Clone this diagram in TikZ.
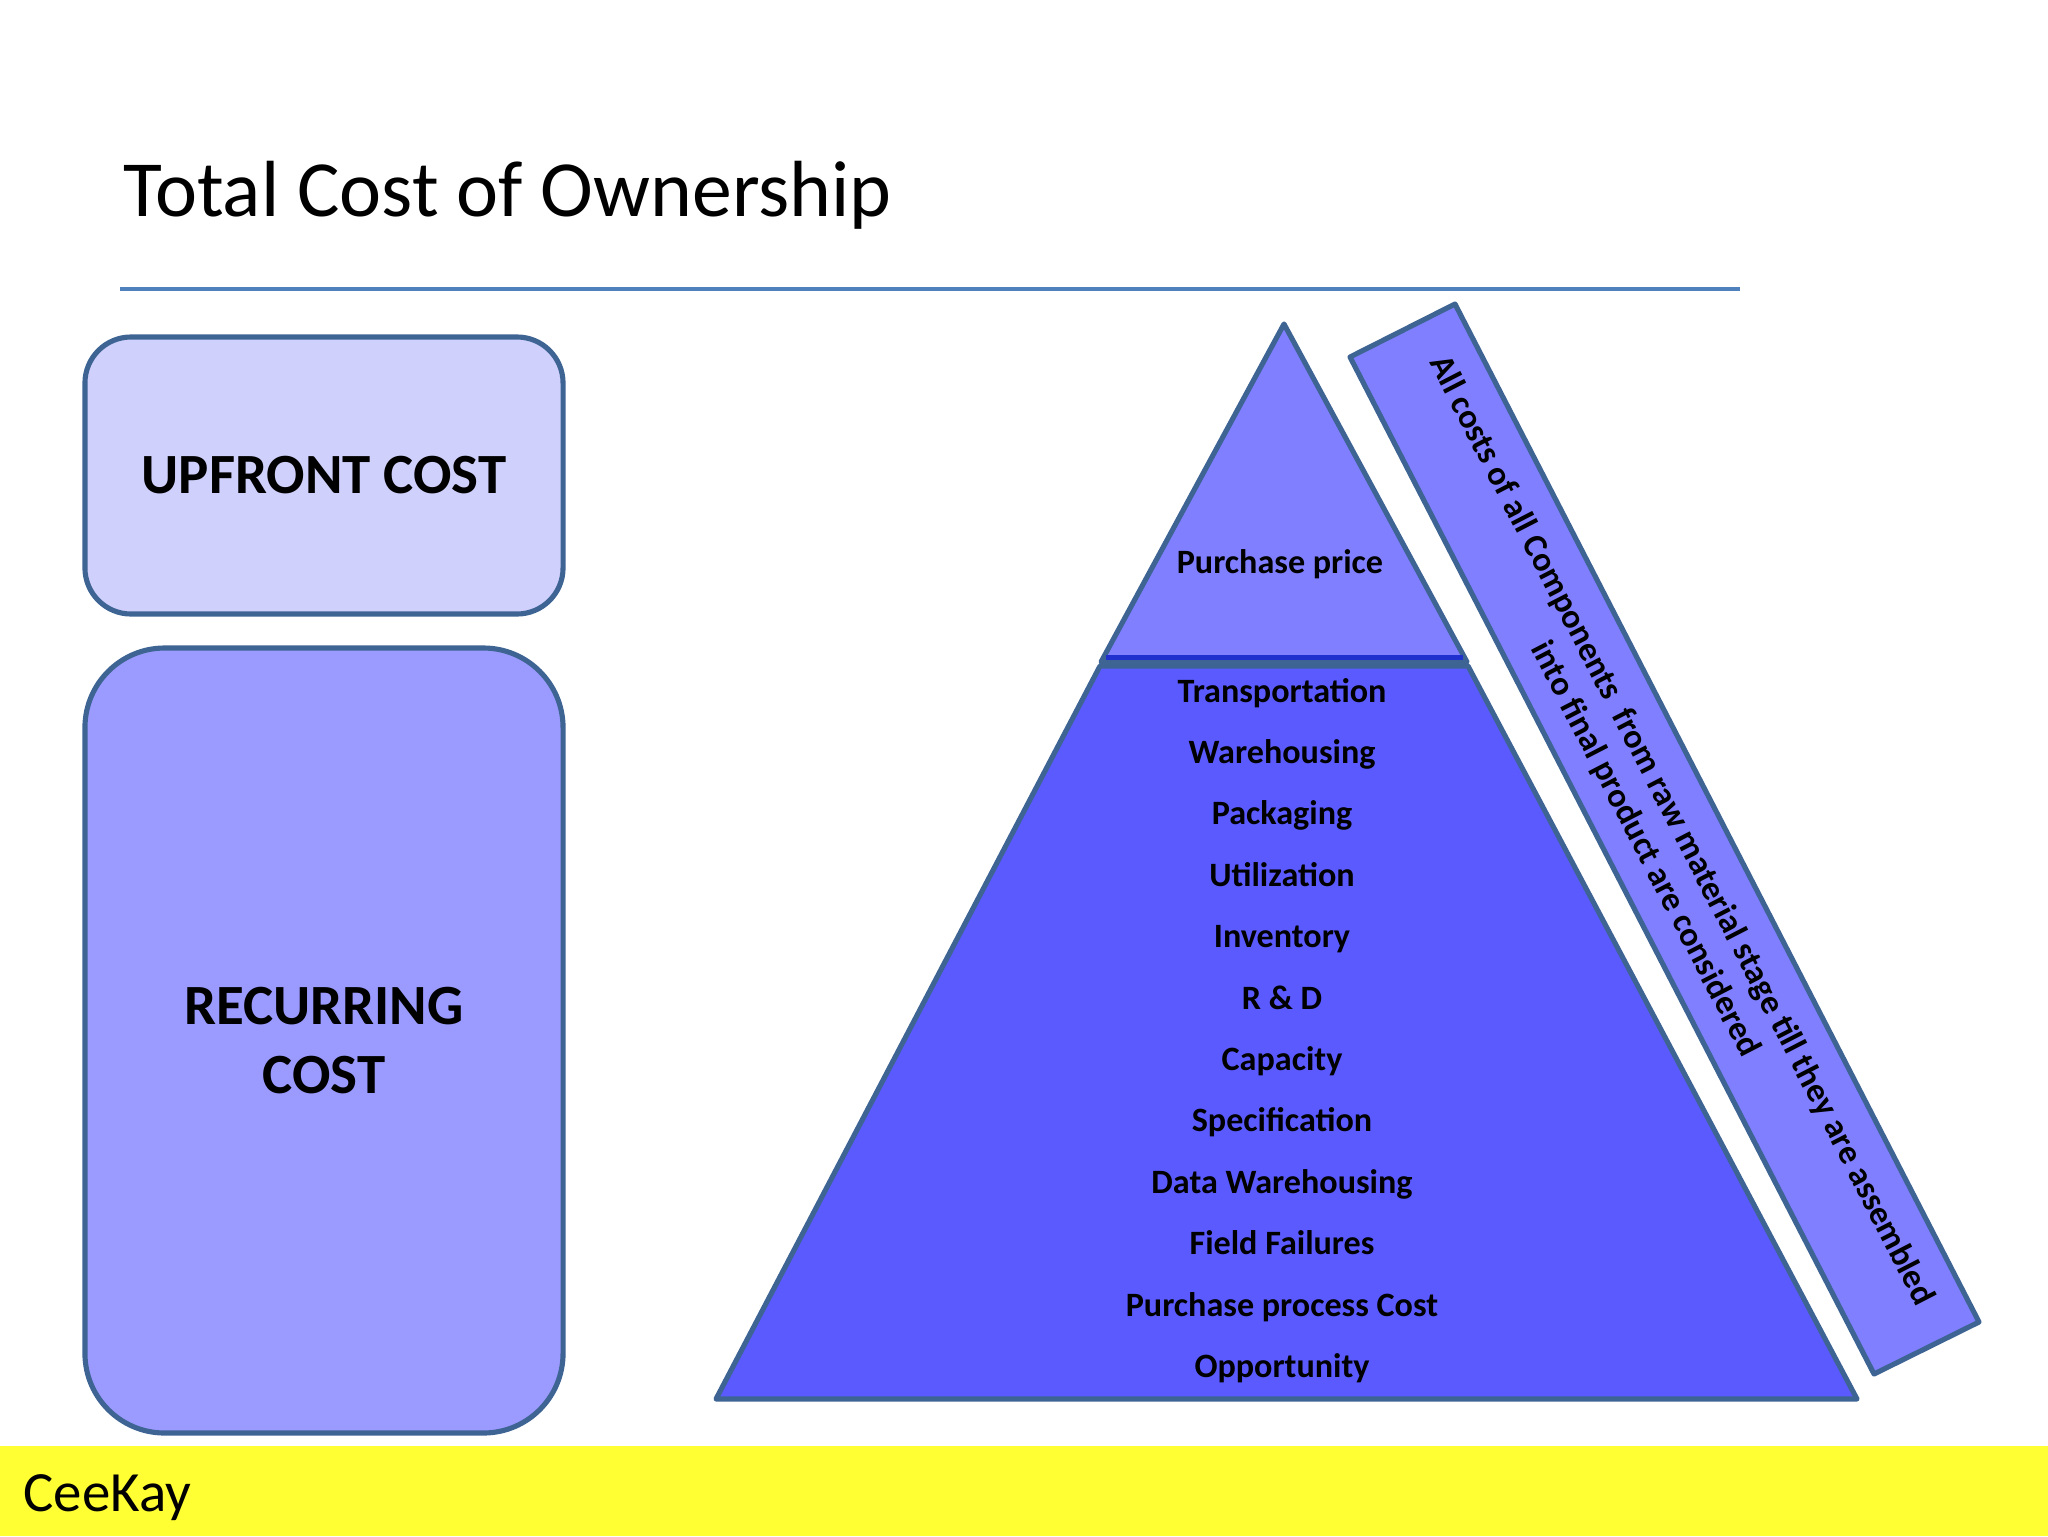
\documentclass[tikz,border=0pt]{standalone}
\usepackage{fontspec}
\setmainfont{Carlito}
\definecolor{steel}{RGB}{62,100,148}
\definecolor{upfill}{RGB}{208,208,252}
\definecolor{recfill}{RGB}{155,155,255}
\definecolor{topfill}{RGB}{127,127,255}
\definecolor{botfill}{RGB}{90,90,255}
\definecolor{darkstripe}{RGB}{31,48,207}
\definecolor{rulecol}{RGB}{79,129,189}
\definecolor{footerfill}{RGB}{255,255,51}
\begin{document}
\begin{tikzpicture}[x=0.3516pt,y=-0.3516pt,
  shapeline/.style={draw=steel,line width=1.8pt,line join=round},
  costbox/.style={shapeline,minimum width=168.1pt,inner sep=0pt,align=center,
     font=\fontsize{20}{24}\selectfont\bfseries},
  item/.style={anchor=base,inner sep=0pt,font=\fontsize{12}{14.4}\selectfont\bfseries},
  plain/.style={inner sep=0pt}]
\useasboundingbox (0,0) rectangle (2048,1536);
\fill[white] (0,0) rectangle (2048,1536);
% title and rule
\node[plain,anchor=base west,font=\fontsize{28}{34}\selectfont] (title) at (123,216) {Total Cost of Ownership};
\coordinate (ruleL) at (120,289);
\coordinate (ruleR) at (1740,289);
\draw[rulecol,line width=1.2pt] (ruleL) -- (ruleR);
% left boxes
\node[costbox,fill=upfill,minimum height=97.4pt,rounded corners=16.2pt] (upfront) at (324,475.5) {UPFRONT COST};
\node[costbox,fill=recfill,minimum height=276pt,rounded corners=28pt] (recurring) at (324,1040.5) {RECURRING\\COST};
% pyramid
\coordinate (apex) at (1284,324);
\coordinate (tL) at (1101,662);
\coordinate (tR) at (1467,662);
\coordinate (mL) at (1100,666);
\coordinate (mR) at (1468,666);
\coordinate (bL) at (716,1399);
\coordinate (bR) at (1857,1399);
\draw[shapeline,fill=botfill] (mL) -- (mR) -- (bR) -- (bL) -- cycle;
\draw[shapeline,fill=topfill] (apex) -- (tR) -- (tL) -- cycle;
\coordinate (sL) at (1106,657.5);
\coordinate (sR) at (1463,657.5);
\draw[darkstripe,line width=1.6pt] (sL) -- (sR);
\node[item] (purchase) at (1280,573) {Purchase price};
\foreach \t [count=\i from 0] in {Transportation,Warehousing,Packaging,Utilization,Inventory,R \& D,Capacity,Specification,Data Warehousing,Field Failures,Purchase process Cost,Opportunity}{
  \node[item] (item\i) at (1282,702+61.4*\i) {\t};
}
% band
\coordinate (b1) at (1350,357);
\coordinate (b2) at (1455,304);
\coordinate (b3) at (1979,1322);
\coordinate (b4) at (1874,1374);
\draw[shapeline,fill=topfill] (b1) -- (b2) -- (b3) -- (b4) -- cycle;
\node[plain,rotate=-62.7,align=center,font=\fontsize{12}{14.4}\selectfont\bfseries] (bandtext) at (1663,840)
  {All costs of all Components\ \ from raw material stage till they are assembled\\into final product are considered};
% footer
\fill[footerfill] (0,1446) rectangle (2048,1536);
\node[plain,anchor=base west,font=\fontsize{20}{24}\selectfont] (footer) at (23,1511) {CeeKay};
\end{tikzpicture}
\end{document}
